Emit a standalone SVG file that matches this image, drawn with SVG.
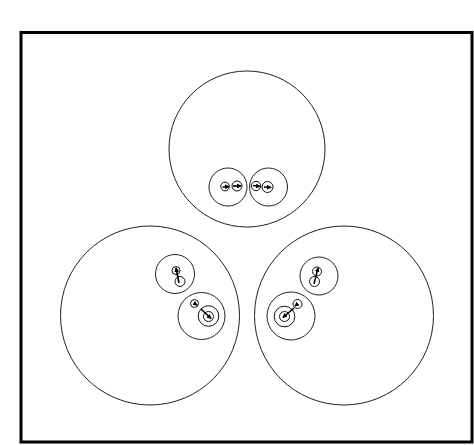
<svg xmlns="http://www.w3.org/2000/svg" width="474" height="445" viewBox="0 0 474 445">
<style>
.c{fill:none;stroke:#222;stroke-width:1}
.t{fill:none;stroke:#111;stroke-width:1}
.e{stroke:#000;stroke-width:1.6;fill:none}
</style>
<defs>
<marker id="ah" viewBox="0 0 6 6" refX="5" refY="3" markerWidth="3" markerHeight="3" orient="auto"><path d="M0,0 L6,3 L0,6 z" fill="#000"/></marker>
</defs>
<rect x="21" y="32.5" width="451" height="409.5" fill="none" stroke="#000" stroke-width="3"/>
<g id="top">
<circle class="c" cx="247" cy="149" r="78"/>
<g id="top-a"><circle class="c" cx="228" cy="187" r="19"/>
<circle class="t" cx="225" cy="186.5" r="4.3"/><circle class="t" cx="237" cy="186" r="5"/></g>
<g id="top-b"><circle class="c" cx="268.5" cy="187" r="19"/>
<circle class="t" cx="256" cy="186" r="4.7"/><circle class="t" cx="267.5" cy="187" r="5.5"/></g>
</g>
<g id="left">
<circle class="c" cx="150" cy="315.5" r="89.5"/>
<g id="left-a"><circle class="c" cx="175" cy="274" r="19.5"/>
<circle class="t" cx="176" cy="270.5" r="4"/><circle class="t" cx="180" cy="281.5" r="5"/></g>
<g id="left-b"><circle class="c" cx="201.5" cy="316" r="23.5"/>
<circle class="t" cx="194.5" cy="303.5" r="4"/><circle class="t" cx="208.5" cy="316" r="10.3"/><circle class="t" cx="208.5" cy="316.5" r="5"/></g>
</g>
<g id="right">
<circle class="c" cx="344" cy="315.5" r="89.5"/>
<g id="right-a"><circle class="c" cx="319" cy="276" r="19"/>
<circle class="t" cx="317" cy="271.5" r="4.5"/><circle class="t" cx="314.5" cy="281.5" r="5"/></g>
<g id="right-b"><circle class="c" cx="291" cy="316" r="24"/>
<circle class="t" cx="297.5" cy="304" r="4.5"/><circle class="t" cx="284.5" cy="316.5" r="10.3"/><circle class="t" cx="284.5" cy="316.5" r="5"/></g>
</g>
<g id="edges">
<line class="e" x1="222.5" y1="187" x2="229" y2="186.5" marker-end="url(#ah)"/>
<line class="e" x1="233" y1="186" x2="241" y2="186" marker-end="url(#ah)"/>
<line class="e" x1="253" y1="185.5" x2="260" y2="186.5" marker-end="url(#ah)"/>
<line class="e" x1="264" y1="187" x2="271" y2="187.5" marker-end="url(#ah)"/>
<line class="e" x1="179" y1="283" x2="176" y2="268" marker-end="url(#ah)"/>
<line class="e" x1="194.5" y1="303.5" x2="197" y2="305" marker-end="url(#ah)"/>
<line class="e" x1="201" y1="309" x2="211" y2="318.5" marker-end="url(#ah)"/>
<line class="e" x1="314" y1="284" x2="318" y2="268" marker-end="url(#ah)"/>
<line class="e" x1="297.5" y1="304" x2="295" y2="306" marker-end="url(#ah)"/>
<line class="e" x1="294" y1="308" x2="283" y2="317.5" marker-end="url(#ah)"/>
</g>
</svg>
